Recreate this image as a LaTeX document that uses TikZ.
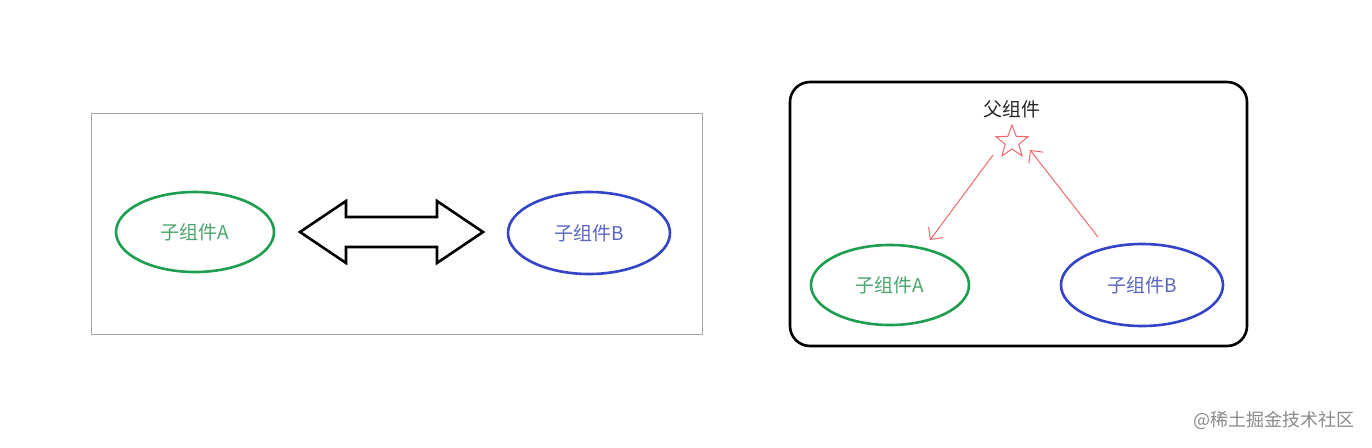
\documentclass[tikz,border=0pt]{standalone}
\usepackage{fontspec}
\setmainfont{Noto Sans CJK SC}
\usetikzlibrary{shapes.geometric,arrows.meta}
\definecolor{gA}{HTML}{1E9E50}
\definecolor{gAt}{HTML}{4CA56E}
\definecolor{bB}{HTML}{3444C8}
\definecolor{bBt}{HTML}{5A66C4}
\definecolor{rr}{HTML}{F06868}
\definecolor{wm}{HTML}{8A8A8A}
\tikzset{
  lbl/.style={font=\fontsize{19}{19}\selectfont},
  compA/.style={ellipse,draw=gA,line width=2.6pt,minimum width=158pt,minimum height=80pt,text=gAt,lbl},
  compB/.style={ellipse,draw=bB,line width=2.6pt,minimum width=162pt,minimum height=82pt,text=bBt,lbl},
  redarrow/.style={draw=rr,line width=1pt,-{Straight Barb[length=9pt,width=18pt]}},
}
\begin{document}
\begin{tikzpicture}[x=1pt,y=-1pt]
\useasboundingbox (0,0) rectangle (1372,447);
\fill[white] (0,0) rectangle (1372,447);
% left panel
\draw[gray!70,line width=0.8pt] (91,113) rectangle (702,334);
\node[compA] (a1) at (195,232) {子组件A};
\node[compB] (b1) at (589,233) {子组件B};
\draw[black,line width=2.6pt,line join=miter] (300,232) -- (346,201) -- (346,217) -- (437,217) -- (437,201) -- (483,232) -- (437,263) -- (437,247) -- (346,247) -- (346,263) -- cycle;
% right panel
\draw[black,line width=2.6pt,rounded corners=20pt] (790,82) rectangle (1247,346);
\node[lbl,text=black!85] (p) at (1012,109) {父组件};
\node[star,star points=5,star point ratio=2.4,draw=rr,line width=1pt,minimum size=34pt,inner sep=0pt] (s) at (1012,142) {};
\node[compA] (a2) at (890,285) {子组件A};
\node[compB] (b2) at (1142,285) {子组件B};
\coordinate (s1) at (993,155);
\coordinate (a2t) at (930,240);
\coordinate (b2t) at (1098,237);
\coordinate (s2) at (1030,150);
\draw[redarrow] (s1) -- (a2t);
\draw[redarrow] (b2t) -- (s2);
% watermark
\node[anchor=east,text=wm,font=\fontsize{18}{18}\selectfont] (w) at (1358,420) {@稀土掘金技术社区};
\end{tikzpicture}
\end{document}
